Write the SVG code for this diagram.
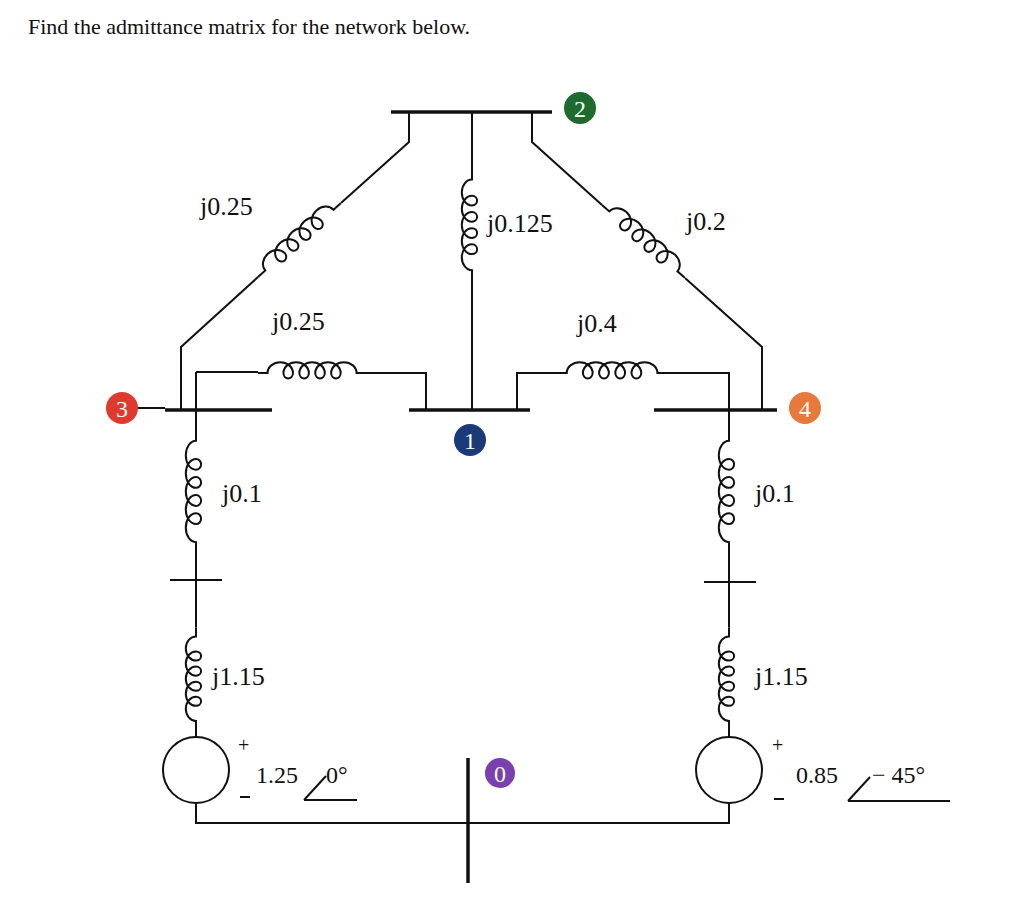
<svg xmlns="http://www.w3.org/2000/svg" width="1024" height="898" viewBox="0 0 1024 898">
<style>
.w{stroke:#111;stroke-width:2;fill:none}
.b{stroke:#111;stroke-width:3.5;fill:none}
.c{stroke:#111;stroke-width:2;fill:none;vector-effect:non-scaling-stroke}
.t{font-family:"Liberation Serif","DejaVu Serif",serif;font-size:26px;fill:#111}
.n{font-family:"Liberation Serif","DejaVu Serif",serif;font-size:24px;fill:#fff;text-anchor:middle}
</style>
<defs>
<path id="coil" class="c" d="M0,0 L6,0 a8 12 0 1 1 16 0 a3 6 0 1 1 -6 0 a8 12 0 1 1 16 0 a3 6 0 1 1 -6 0 a8 12 0 1 1 16 0 a3 6 0 1 1 -6 0 a8 12 0 1 1 16 0 a3 6 0 1 1 -6 0 a8 12 0 1 1 16 0 L68,0"/>
</defs>
<rect width="1024" height="898" fill="#fff"/>
<text x="28" y="34" class="t" style="font-size:22px">Find the admittance matrix for the network below.</text>
<g id="connectors">
<path class="w" d="M409,112 V142 L341,203 M258,277 L181,347 V410"/>
<path class="w" d="M532,112 V142 L602,205 M685,278 L762,347 V410"/>
<path class="w" d="M472,112 V170 M472,280 V410"/>
<path class="w" d="M196,372 H258 M366,373 H426 V410 M196,372 V430"/>
<path class="w" d="M517,410 V373 H557 M667,373 H729 V430"/>
<path class="w" d="M196,553 V627 M170,580 H222 M196,730 V737"/>
<path class="w" d="M729,553 V627 M704,582 H756 M729,730 V737"/>
<path class="w" d="M196,803 V823 H729 V803"/>
<path class="w" d="M138,408 H165"/>
<use href="#coil" transform="translate(258,277) rotate(-41.7) scale(1.63,0.9)"/>
<use href="#coil" transform="translate(602,205) rotate(41.3) scale(1.62,0.9)"/>
<use href="#coil" transform="translate(472,280) rotate(-90) scale(1.62,0.85)"/>
<use href="#coil" transform="translate(258,373) scale(1.59,0.9)"/>
<use href="#coil" transform="translate(557,373) scale(1.62,0.9)"/>
<use href="#coil" transform="translate(196,553) rotate(-90) scale(1.81,0.85)"/>
<use href="#coil" transform="translate(196,730) rotate(-90) scale(1.51,0.85)"/>
<use href="#coil" transform="translate(729,553) rotate(-90) scale(1.81,0.85)"/>
<use href="#coil" transform="translate(729,730) rotate(-90) scale(1.51,0.85)"/>
</g>
<g id="bus2"><path class="b" d="M391,112 H552"/><circle cx="580" cy="108" r="16" fill="#1e6b2e"/><text x="580" y="117" class="n">2</text></g>
<g id="bus3"><path class="b" d="M165,410 H272"/><circle cx="122" cy="408" r="16" fill="#e03a2e"/><text x="122" y="417" class="n">3</text></g>
<g id="bus1"><path class="b" d="M409,410 H530"/><circle cx="470" cy="440" r="16" fill="#1a3a7a"/><text x="470" y="449" class="n">1</text></g>
<g id="bus4"><path class="b" d="M654,410 H777"/><circle cx="805" cy="408" r="16" fill="#e8793a"/><text x="805" y="417" class="n">4</text></g>
<g id="bus0"><path class="b" d="M468,758 V883"/><circle cx="500" cy="773" r="15" fill="#7a3fb0"/><text x="500" y="782" class="n">0</text></g>
<g id="gen1"><circle cx="196" cy="770" r="33" class="w"/><text x="238" y="752" class="t" style="font-size:20px">+</text><path class="w" d="M240,797 H250"/>
<text x="256" y="783" class="t" style="font-size:24px">1.25</text><path class="w" d="M304,800 L326,776 M304,800 H357"/><text x="326" y="783" class="t" style="font-size:24px">0°</text></g>
<g id="gen2"><circle cx="729" cy="770" r="33" class="w"/><text x="772" y="752" class="t" style="font-size:20px">+</text><path class="w" d="M774,799 H784"/>
<text x="796" y="783" class="t" style="font-size:24px">0.85</text><path class="w" d="M848,801 L870,777 M848,801 H950"/><text x="872" y="783" class="t" style="font-size:24px">− 45°</text></g>
<g id="labels">
<text x="200" y="215" class="t">j0.25</text>
<text x="487" y="232" class="t">j0.125</text>
<text x="686" y="230" class="t">j0.2</text>
<text x="272" y="330" class="t">j0.25</text>
<text x="577" y="332" class="t">j0.4</text>
<text x="222" y="502" class="t">j0.1</text>
<text x="755" y="502" class="t">j0.1</text>
<text x="212" y="685" class="t">j1.15</text>
<text x="755" y="685" class="t">j1.15</text>
</g>
</svg>
